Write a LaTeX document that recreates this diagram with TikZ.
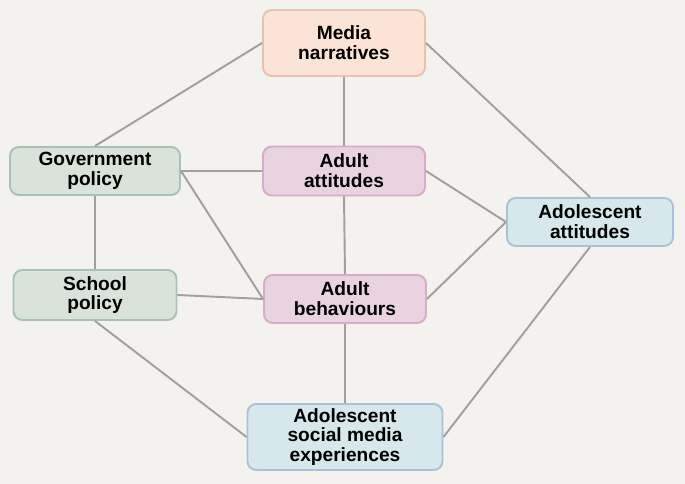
\documentclass[tikz,border=0pt]{standalone}
\usepackage{fontspec}
\setmainfont{Liberation Sans}
\usepackage{xcolor}
\usepackage{tikz}
\usetikzlibrary{positioning}
\definecolor{mediafill}{HTML}{FBE3D6}
\definecolor{mediadraw}{HTML}{E9C2AD}
\definecolor{policyfill}{HTML}{D9E3D9}
\definecolor{policydraw}{HTML}{A8C3B6}
\definecolor{adultfill}{HTML}{EAD3E1}
\definecolor{adultdraw}{HTML}{D6ADC8}
\definecolor{teenfill}{HTML}{D6E8EC}
\definecolor{teendraw}{HTML}{A9C2D9}
\definecolor{linkgray}{HTML}{A0A0A0}
\definecolor{paper}{HTML}{F4F2EE}
\tikzset{
  factor/.style={rounded corners=5pt, line width=1.1pt, align=center, inner sep=2pt,
    font=\fontsize{10.9}{11.2}\selectfont\bfseries, text=black},
  media/.style={factor, fill=mediafill, draw=mediadraw},
  policy/.style={factor, fill=policyfill, draw=policydraw},
  adult/.style={factor, fill=adultfill, draw=adultdraw},
  teen/.style={factor, fill=teenfill, draw=teendraw},
  link/.style={draw=linkgray, line width=1.1pt}
}

\begin{document}
\begin{tikzpicture}
    % Background
    \fill[paper] (0,0) rectangle (13.70,9.68);
    \useasboundingbox (0,0) rectangle (13.70,9.68);

    % Factors
    \node[media, minimum width=3.24cm, minimum height=1.32cm] (media) at (6.88,8.82) {Media\\narratives};
    \node[policy, minimum width=3.40cm, minimum height=0.96cm] (gov) at (1.90,6.26) {Government\\policy};
    \node[adult, minimum width=3.24cm, minimum height=0.98cm] (adultatt) at (6.88,6.26) {Adult\\attitudes};
    \node[teen, minimum width=3.32cm, minimum height=0.96cm] (teenatt) at (11.80,5.24) {Adolescent\\attitudes};
    \node[policy, minimum width=3.26cm, minimum height=1.00cm] (school) at (1.90,3.78) {School\\policy};
    \node[adult, minimum width=3.24cm, minimum height=0.96cm] (adultbeh) at (6.90,3.70) {Adult\\behaviours};
    \node[teen, minimum width=3.90cm, minimum height=1.32cm] (social) at (6.90,0.94) {Adolescent\\social media\\experiences};

    % Links
    \draw[link] (media.west) -- (gov.north);
    \draw[link] (media.south) -- (adultatt.north);
    \draw[link] (media.east) -- (teenatt.north);
    \draw[link] (gov.east) -- (adultatt.west);
    \draw[link] (gov.east) -- (adultbeh.west);
    \draw[link] (gov.south) -- (school.north);
    \draw[link] (school.east) -- (adultbeh.west);
    \draw[link] (adultatt.south) -- (adultbeh.north);
    \draw[link] (adultatt.east) -- (teenatt.west);
    \draw[link] (adultbeh.east) -- (teenatt.west);
    \draw[link] (school.south) -- (social.west);
    \draw[link] (adultbeh.south) -- (social.north);
    \draw[link] (teenatt.south) -- (social.east);
\end{tikzpicture}
\end{document}
